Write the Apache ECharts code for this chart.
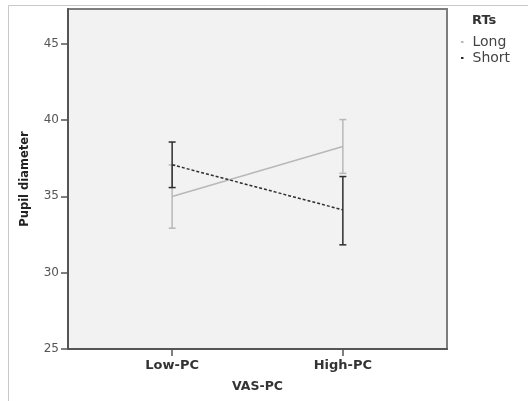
<!DOCTYPE html>
<html><head><meta charset="utf-8">
<script src="https://cdn.jsdelivr.net/npm/echarts@6/dist/echarts.min.js"></script>
<style>html,body{margin:0;padding:0;background:#fff}#c{width:528px;height:401px}</style>
</head><body><div id="c"></div>
<script>
const categories = ['Low-PC', 'High-PC'];
const categoryPos = [1, 2];
const yTicks = [25, 30, 35, 40, 45];
const longMean = [34.98, 38.26];
const longLow = [32.91, 36.50];
const longHigh = [37.05, 40.02];
const shortMean = [37.06, 34.11];
const shortLow = [35.57, 31.82];
const shortHigh = [38.55, 36.29];

const FONT = '"DejaVu Sans", "Open Sans", sans-serif';
const LONG_C = '#b8b8b8', SHORT_C = '#2e2e2e';

function errData(lo, hi) { return categoryPos.map((x, i) => [x, lo[i], hi[i]]); }
function errRender(color) {
  return function (params, api) {
    const x = api.value(0);
    const p1 = api.coord([x, api.value(1)]);
    const p2 = api.coord([x, api.value(2)]);
    const w = 3.5;
    const st = { stroke: color, lineWidth: 1.5 };
    return { type: 'group', children: [
      { type: 'line', shape: { x1: p1[0], y1: p1[1], x2: p2[0], y2: p2[1] }, style: st },
      { type: 'line', shape: { x1: p1[0] - w, y1: p1[1], x2: p1[0] + w, y2: p1[1] }, style: st },
      { type: 'line', shape: { x1: p2[0] - w, y1: p2[1], x2: p2[0] + w, y2: p2[1] }, style: st }
    ]};
  };
}

const chart = echarts.init(document.getElementById('c'), null, { renderer: 'canvas' });
chart.setOption({
  animation: false,
  backgroundColor: '#fff',
  textStyle: { fontFamily: FONT },
  graphic: [
    { type: 'line', shape: { x1: 8.5, y1: 5.5, x2: 528, y2: 5.5 }, style: { stroke: '#c8c8c8', lineWidth: 1 }, z: -1 },
    { type: 'line', shape: { x1: 8.5, y1: 5.5, x2: 8.5, y2: 401 }, style: { stroke: '#c8c8c8', lineWidth: 1 }, z: -1 },
    { type: 'text', left: 472, top: 14, style: { text: 'RTs', font: 'bold 13px ' + FONT, fill: '#333' } }
  ],
  legend: {
    data: ['Long', 'Short'],
    orient: 'vertical',
    left: 461, top: 35, padding: 0,
    icon: 'rect', itemWidth: 2.5, itemHeight: 2, itemGap: 2,
    textStyle: { fontSize: 14, color: '#444', fontFamily: FONT, padding: [0, 0, 0, 4] }
  },
  grid: {
    left: 68, top: 9, right: 81, bottom: 52,
    show: true, backgroundColor: '#f2f2f2', borderColor: '#7d7d7d', borderWidth: 2
  },
  xAxis: {
    type: 'value', min: 0.39, max: 2.61,
    name: 'VAS-PC', nameLocation: 'middle', nameGap: 31,
    nameTextStyle: { fontSize: 12.5, fontWeight: 'bold', color: '#333', fontFamily: FONT },
    axisLine: { show: true, lineStyle: { color: '#555', width: 2 } },
    axisTick: { show: true, length: 7, lineStyle: { color: '#555', width: 1.5 }, customValues: categoryPos },
    axisLabel: {
      customValues: categoryPos, margin: 10, fontSize: 13, fontWeight: 'bold', color: '#333', fontFamily: FONT,
      formatter: v => categories[categoryPos.indexOf(v)] || ''
    },
    splitLine: { show: false }
  },
  yAxis: {
    type: 'value', min: 25, max: 47.26,
    name: 'Pupil diameter', nameLocation: 'middle', nameGap: 37, nameRotate: 90,
    nameTextStyle: { fontSize: 11.5, fontWeight: 'bold', color: '#222', fontFamily: FONT },
    axisLine: { show: true, lineStyle: { color: '#555', width: 2 } },
    axisTick: { show: true, length: 7, lineStyle: { color: '#555', width: 1.5 }, customValues: yTicks },
    axisLabel: { customValues: yTicks, margin: 9, fontSize: 12, color: '#555', fontFamily: FONT },
    splitLine: { show: false }
  },
  series: [
    { name: 'Long', type: 'line', data: categoryPos.map((x, i) => [x, longMean[i]]),
      showSymbol: false, symbol: 'none', color: LONG_C, lineStyle: { color: LONG_C, width: 1.5 }, z: 2 },
    { type: 'custom', data: errData(longLow, longHigh), renderItem: errRender(LONG_C), z: 3, silent: true },
    { name: 'Short', type: 'line', data: categoryPos.map((x, i) => [x, shortMean[i]]),
      showSymbol: false, symbol: 'none', color: SHORT_C, lineStyle: { color: SHORT_C, width: 1.5, type: [3, 2] }, z: 4 },
    { type: 'custom', data: errData(shortLow, shortHigh), renderItem: errRender(SHORT_C), z: 5, silent: true }
  ]
});
</script></body></html>
